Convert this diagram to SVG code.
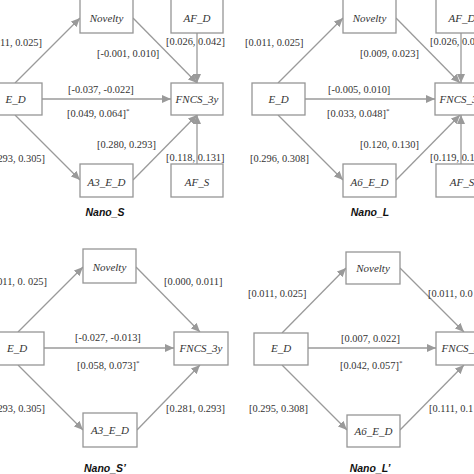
<svg xmlns="http://www.w3.org/2000/svg" width="474" height="474" viewBox="0 0 474 474">
<style>
.box{fill:#fff;stroke:#969696;stroke-width:1.3}
.nt{font-family:"Liberation Serif",serif;font-style:italic;font-size:11px;fill:#333;text-anchor:middle}
.lb{font-family:"Liberation Serif",serif;font-size:10.4px;fill:#333}
.e{text-anchor:end}
.ttl{font-family:"Liberation Sans",sans-serif;font-weight:bold;font-style:italic;font-size:10.5px;fill:#111;text-anchor:middle}
.cn line{stroke:#9a9a9a;stroke-width:1.3;marker-end:url(#ah)}
.sup{font-size:7px}
</style>
<defs>
<marker id="ah" markerUnits="userSpaceOnUse" markerWidth="9" markerHeight="8" refX="9" refY="4" orient="auto">
<path d="M0,0 L9,4 L0,8 z" fill="#9a9a9a"/>
</marker>
</defs>
<rect width="474" height="474" fill="#fff"/>

<g id="connectors" class="cn">
<!-- panel 1 -->
<line x1="15" y1="83" x2="80" y2="18"/>
<line x1="133" y1="18" x2="197" y2="83"/>
<line x1="197" y1="33" x2="197" y2="83"/>
<line x1="42" y1="99" x2="171" y2="99"/>
<line x1="15" y1="115" x2="80" y2="180"/>
<line x1="133" y1="180" x2="197" y2="115"/>
<line x1="197" y1="164" x2="197" y2="115"/>
<!-- panel 2 -->
<line x1="278" y1="83" x2="343" y2="18"/>
<line x1="396" y1="18" x2="460" y2="83"/>
<line x1="461" y1="33" x2="461" y2="83"/>
<line x1="305" y1="99" x2="435" y2="99"/>
<line x1="278" y1="115" x2="343" y2="180"/>
<line x1="396" y1="180" x2="460" y2="115"/>
<line x1="461" y1="164" x2="461" y2="115"/>
<!-- panel 3 -->
<line x1="18" y1="332" x2="83" y2="267"/>
<line x1="136" y1="267" x2="200" y2="332"/>
<line x1="44" y1="348" x2="174" y2="348"/>
<line x1="18" y1="365" x2="83" y2="430"/>
<line x1="137" y1="430" x2="200" y2="365"/>
<!-- panel 4 -->
<line x1="282" y1="333" x2="346" y2="268"/>
<line x1="400" y1="268" x2="464" y2="332"/>
<line x1="308" y1="348" x2="436" y2="348"/>
<line x1="282" y1="365" x2="347" y2="430"/>
<line x1="400" y1="430" x2="464" y2="365"/>
</g>

<!-- panel 1 nodes -->
<g id="p1-novelty"><rect class="box" x="80" y="-1" width="53" height="34"/><text class="nt" x="106.5" y="21.5">Novelty</text></g>
<g id="p1-afd"><rect class="box" x="171" y="-1" width="52" height="34"/><text class="nt" x="197" y="21.5">AF_D</text></g>
<g id="p1-ed"><rect class="box" x="-11" y="83" width="53" height="32"/><text class="nt" x="15.5" y="102.5">E_D</text></g>
<g id="p1-fncs"><rect class="box" x="171" y="83" width="52" height="32"/><text class="nt" x="197" y="102.5">FNCS_3y</text></g>
<g id="p1-a3"><rect class="box" x="80" y="164" width="53" height="33"/><text class="nt" x="106.5" y="185.5">A3_E_D</text></g>
<g id="p1-afs"><rect class="box" x="171" y="164" width="52" height="33"/><text class="nt" x="197" y="185.5">AF_S</text></g>

<!-- panel 2 nodes -->
<g id="p2-novelty"><rect class="box" x="343" y="-1" width="53" height="34"/><text class="nt" x="369.5" y="21.5">Novelty</text></g>
<g id="p2-afd"><rect class="box" x="436" y="-1" width="52" height="34"/><text class="nt" x="462" y="21.5">AF_D</text></g>
<g id="p2-ed"><rect class="box" x="252" y="83" width="53" height="32"/><text class="nt" x="278.5" y="102.5">E_D</text></g>
<g id="p2-fncs"><rect class="box" x="435" y="83" width="52" height="32"/><text class="nt" x="461" y="102.5">FNCS_3y</text></g>
<g id="p2-a6"><rect class="box" x="343" y="164" width="53" height="33"/><text class="nt" x="369.5" y="185.5">A6_E_D</text></g>
<g id="p2-afs"><rect class="box" x="436" y="164" width="52" height="33"/><text class="nt" x="462" y="185.5">AF_S</text></g>

<!-- panel 3 nodes -->
<g id="p3-novelty"><rect class="box" x="83" y="249" width="53" height="34"/><text class="nt" x="109.5" y="270.5">Novelty</text></g>
<g id="p3-ed"><rect class="box" x="-10" y="332" width="54" height="33"/><text class="nt" x="17" y="351.5">E_D</text></g>
<g id="p3-fncs"><rect class="box" x="174" y="332" width="54" height="33"/><text class="nt" x="201" y="351.5">FNCS_3y</text></g>
<g id="p3-a3"><rect class="box" x="83" y="413" width="54" height="34"/><text class="nt" x="110" y="434">A3_E_D</text></g>

<!-- panel 4 nodes -->
<g id="p4-novelty"><rect class="box" x="346" y="252" width="54" height="32"/><text class="nt" x="373" y="271.5">Novelty</text></g>
<g id="p4-ed"><rect class="box" x="254" y="333" width="54" height="32"/><text class="nt" x="281" y="352">E_D</text></g>
<g id="p4-fncs"><rect class="box" x="436" y="332" width="54" height="33"/><text class="nt" x="463" y="352">FNCS_3y</text></g>
<g id="p4-a6"><rect class="box" x="347" y="415" width="53" height="32"/><text class="nt" x="373.5" y="434.5">A6_E_D</text></g>

<!-- labels -->
<g id="labels">
<text class="lb e" x="42" y="45.5">[0.011, 0.025]</text>
<text class="lb" x="97" y="56.5">[-0.001, 0.010]</text>
<text class="lb" x="166" y="44.5">[0.026, 0.042]</text>
<text class="lb" x="68" y="92.5">[-0.037, -0.022]</text>
<text class="lb" x="67" y="116.5">[0.049, 0.064]<tspan class="sup" dy="-4">*</tspan></text>
<text class="lb" x="97" y="147.5">[0.280, 0.293]</text>
<text class="lb" x="166" y="160.5">[0.118, 0.131]</text>
<text class="lb e" x="45" y="161.5">[0.293, 0.305]</text>

<text class="lb" x="245" y="45.5">[0.011, 0.025]</text>
<text class="lb" x="360" y="56.5">[0.009, 0.023]</text>
<text class="lb" x="430" y="44.5">[0.026, 0.0</text>
<text class="lb" x="328" y="92.5">[-0.005, 0.010]</text>
<text class="lb" x="327" y="116.5">[0.033, 0.048]<tspan class="sup" dy="-4">*</tspan></text>
<text class="lb" x="360" y="147.5">[0.120, 0.130]</text>
<text class="lb" x="250" y="161.5">[0.296, 0.308]</text>
<text class="lb" x="430" y="160.5">[0.119, 0.1</text>

<text class="lb e" x="47" y="284.5">[0.011, 0. 025]</text>
<text class="lb" x="164" y="284.5">[0.000, 0.011]</text>
<text class="lb" x="75" y="340.5">[-0.027, -0.013]</text>
<text class="lb" x="77" y="368.5">[0.058, 0.073]<tspan class="sup" dy="-4">*</tspan></text>
<text class="lb e" x="45" y="411.5">[0.293, 0.305]</text>
<text class="lb" x="166" y="411.5">[0.281, 0.293]</text>

<text class="lb" x="248" y="296.5">[0.011, 0.025]</text>
<text class="lb" x="428" y="296.5">[0.011, 0.0</text>
<text class="lb" x="341" y="341.5">[0.007, 0.022]</text>
<text class="lb" x="340" y="368.5">[0.042, 0.057]<tspan class="sup" dy="-4">*</tspan></text>
<text class="lb" x="249" y="411.5">[0.295, 0.308]</text>
<text class="lb" x="429" y="411.5">[0.111, 0.1</text>
</g>

<g id="titles">
<text class="ttl" x="105" y="216">Nano_S</text>
<text class="ttl" x="370" y="216">Nano_L</text>
<text class="ttl" x="105" y="472">Nano_S’</text>
<text class="ttl" x="370" y="472">Nano_L’</text>
</g>
</svg>
